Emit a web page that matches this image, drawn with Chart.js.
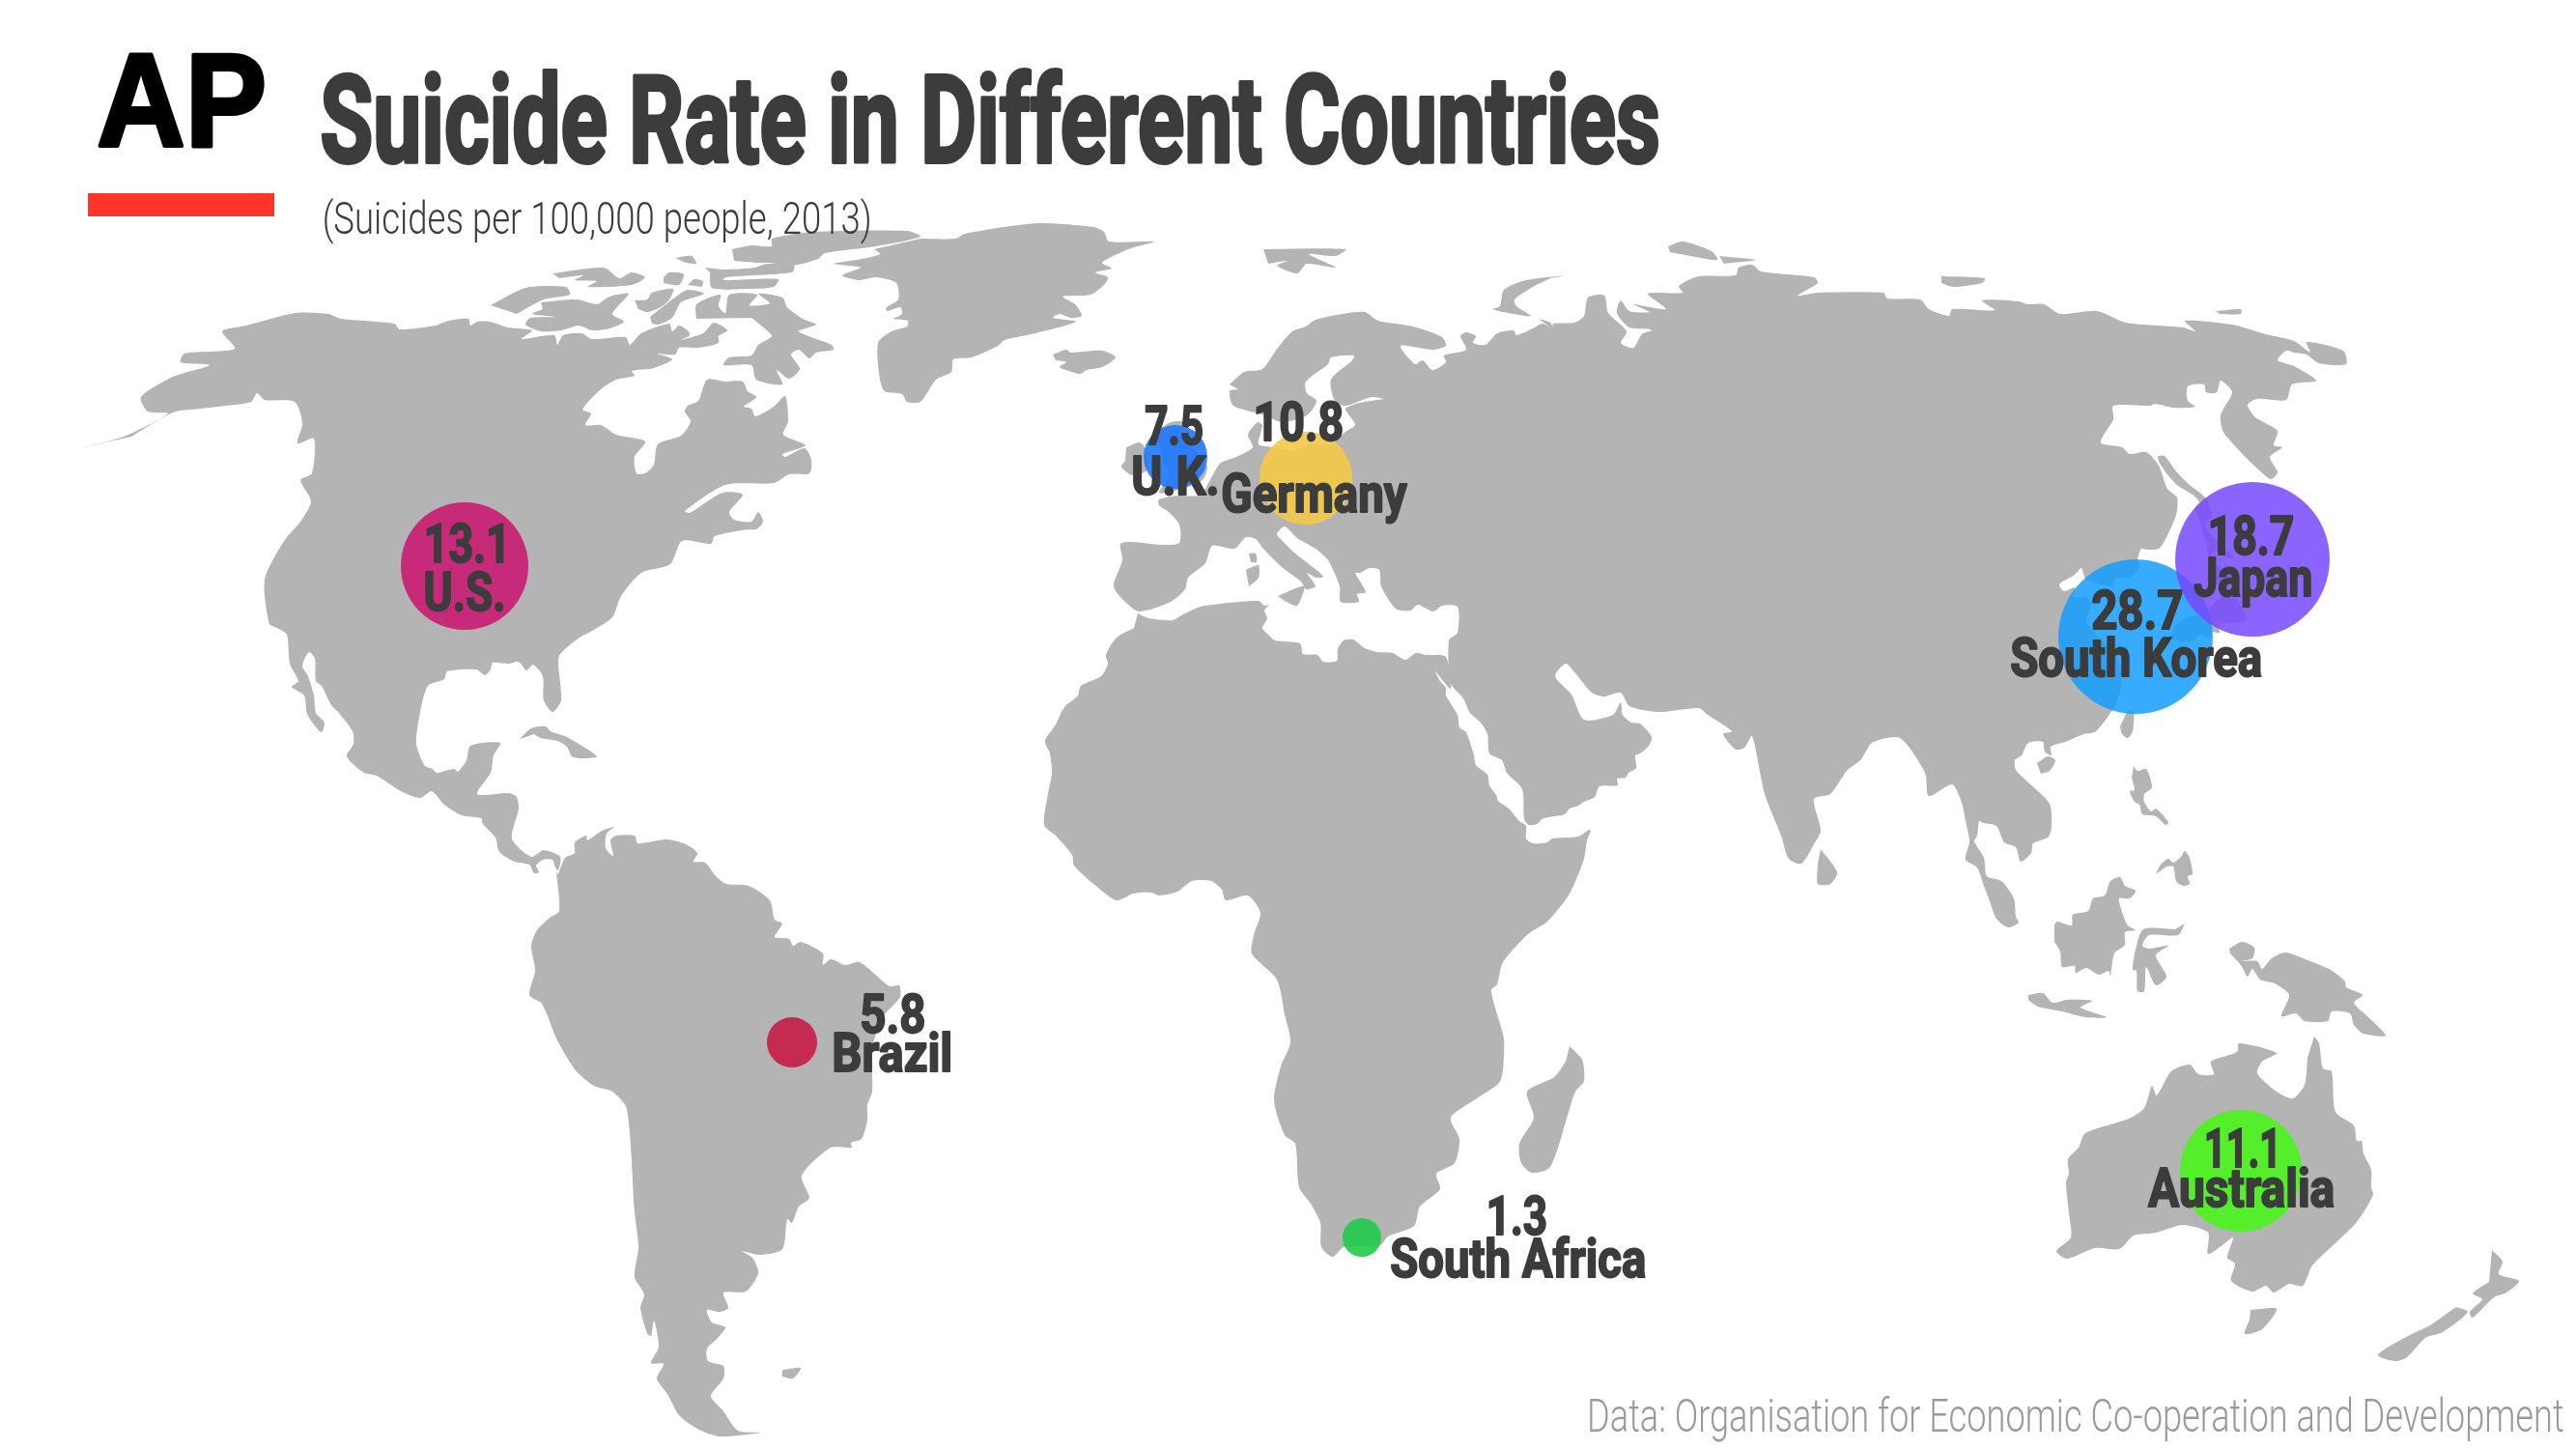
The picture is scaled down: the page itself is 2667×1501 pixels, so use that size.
<!DOCTYPE html>
<html>
<head>
<meta charset="utf-8">
<title>Suicide Rate in Different Countries</title>
<script src="https://cdn.jsdelivr.net/npm/chart.js@4"></script>
<style>
  html, body { margin: 0; padding: 0; background: #fff; overflow: hidden; }
  canvas { display: block; }
</style>
</head>
<body>
<canvas id="map-chart" width="2667" height="1501"></canvas>
<script>
// Chart values
const countries = ['U.S.', 'U.K.', 'Germany', 'South Korea', 'Japan', 'Brazil', 'South Africa', 'Australia'];
const rates = ['13.1', '7.5', '10.8', '28.7', '18.7', '5.8', '1.3', '11.1'];
const bubbleX = [481, 1217, 1352, 2211, 2332, 820, 1410, 2320];
const bubbleY = [586, 473, 495, 659, 579, 1079, 1281, 1212];
const bubbleR = [66, 33, 48, 80, 80, 26, 20, 63];

// Land outlines, in the same x/y units as the bubbles
const northAmerica = [[83,464],[128,452],[174,428],[153,426],[146,411],[179,390],[217,378],[187,375],[191,366],[243,361],[230,343],[255,337],[306,324],[340,325],[353,330],[408,335],[414,341],[451,337],[464,332],[485,330],[487,337],[494,333],[507,333],[526,339],[551,342],[540,351],[574,347],[577,357],[583,347],[602,345],[613,351],[648,349],[652,357],[664,345],[693,335],[696,343],[703,337],[712,342],[714,347],[705,352],[728,345],[739,334],[753,342],[744,348],[744,355],[723,360],[703,360],[699,367],[681,366],[696,372],[677,381],[654,384],[657,389],[638,393],[622,403],[603,424],[612,428],[606,440],[622,440],[638,450],[668,457],[657,473],[659,490],[668,490],[677,481],[681,460],[705,451],[715,436],[709,426],[712,420],[723,415],[732,393],[751,395],[769,395],[774,405],[783,411],[770,421],[778,423],[782,431],[801,421],[813,410],[816,436],[811,450],[834,461],[810,470],[813,473],[833,464],[840,476],[838,490],[817,491],[801,500],[751,502],[709,529],[714,531],[748,510],[769,512],[755,530],[760,538],[778,540],[785,530],[790,540],[783,548],[774,548],[740,555],[736,563],[706,560],[694,584],[664,593],[643,617],[634,639],[613,653],[600,660],[580,677],[578,687],[581,725],[572,737],[563,725],[562,700],[552,688],[545,694],[537,685],[527,687],[510,686],[508,693],[502,699],[493,693],[463,695],[460,703],[443,710],[435,737],[431,770],[440,793],[448,796],[452,800],[470,796],[474,799],[483,787],[487,772],[518,769],[511,782],[508,800],[494,822],[527,821],[535,825],[537,837],[530,868],[550,887],[563,880],[580,887],[578,901],[575,898],[572,890],[562,890],[555,896],[558,903],[553,904],[548,895],[533,892],[517,882],[513,867],[500,853],[498,847],[478,844],[460,833],[447,819],[435,826],[415,819],[390,803],[377,800],[359,783],[366,770],[365,757],[350,737],[343,730],[333,710],[327,705],[326,682],[320,675],[313,689],[319,700],[325,720],[327,738],[336,748],[333,758],[329,755],[318,739],[315,720],[302,711],[309,705],[300,687],[297,657],[287,650],[279,646],[274,600],[294,560],[311,540],[322,519],[311,497],[323,490],[325,454],[308,459],[313,438],[305,416],[274,414],[266,407],[260,416],[226,421],[208,423],[179,427],[136,452]];
const cuba = [[538,765],[550,754],[565,752],[570,757],[587,763],[618,783],[603,785],[592,783],[587,773],[577,767],[560,764],[553,760]];
const banks = [[508,316],[544,298],[586,297],[590,305],[563,310],[535,325]];
const victoria = [[560,313],[597,310],[618,315],[629,308],[638,305],[651,304],[634,325],[646,333],[631,340],[613,342],[599,337],[581,342],[560,343],[544,336],[549,329],[574,328],[551,325],[562,320]];
const melville = [[572,283],[625,277],[641,288],[654,282],[668,287],[654,295],[608,297],[618,291],[595,290],[604,285],[579,288]];
const princeOfWales = [[657,311],[670,310],[675,303],[697,299],[693,310],[684,318],[670,323],[661,320]];
const somerset = [[673,328],[696,310],[712,300],[729,304],[705,313],[696,329],[682,336],[675,335]];
const baffin = [[721,330],[721,315],[746,305],[744,317],[751,324],[755,305],[784,305],[776,316],[797,314],[785,304],[810,308],[815,318],[831,330],[845,336],[827,343],[861,357],[863,362],[845,365],[838,371],[827,362],[819,367],[828,382],[817,392],[804,383],[810,398],[783,393],[778,378],[749,378],[755,370],[778,368],[785,357],[799,348],[788,337],[778,329]];
const ellesmere = [[758,258],[778,254],[799,255],[799,247],[843,240],[939,239],[953,245],[907,255],[854,262],[847,268],[820,275],[797,272],[783,272],[760,270]];
const devon = [[730,277],[751,279],[781,277],[794,273],[822,275],[820,282],[751,287],[749,290],[806,289],[801,297],[774,299],[737,298],[735,282]];
const arcticSmallA = [[699,267],[716,265],[721,273],[710,272]];
const arcticSmallB = [[687,287],[693,282],[708,284],[703,295],[687,293]];
const arcticSmallC = [[712,295],[719,289],[728,291],[727,297]];
const greenland = [[953,247],[989,247],[999,242],[1040,235],[1077,231],[1132,235],[1143,240],[1148,250],[1195,250],[1168,258],[1141,272],[1151,278],[1134,282],[1147,287],[1143,295],[1129,305],[1100,307],[1113,315],[1120,327],[1109,329],[1097,325],[1090,329],[1114,333],[1072,345],[1040,352],[1033,358],[1006,370],[987,372],[985,385],[969,393],[953,416],[939,416],[934,408],[916,405],[911,393],[909,355],[923,343],[939,338],[940,332],[925,330],[934,325],[932,318],[918,322],[918,318],[930,310],[928,293],[907,287],[889,290],[872,285],[891,277],[863,273],[893,268],[911,263],[905,258]];
const iceland = [[1090,367],[1104,362],[1109,365],[1141,363],[1155,370],[1141,380],[1125,383],[1118,387],[1097,380],[1104,375],[1093,373]];
const southAmerica = [[578,905],[585,888],[595,883],[595,872],[607,865],[608,870],[623,860],[636,856],[628,863],[627,878],[635,886],[632,870],[638,865],[657,865],[660,873],[670,872],[691,869],[710,874],[722,883],[718,892],[730,893],[741,907],[752,915],[775,917],[797,932],[802,952],[810,956],[802,970],[817,972],[821,979],[829,975],[852,987],[852,999],[860,993],[875,999],[890,996],[921,1021],[931,1020],[932,1032],[913,1054],[903,1086],[903,1130],[898,1144],[898,1159],[892,1179],[881,1183],[882,1188],[860,1188],[830,1217],[838,1240],[827,1249],[820,1266],[815,1262],[810,1293],[787,1299],[768,1295],[779,1302],[785,1318],[772,1337],[749,1338],[754,1354],[745,1358],[732,1356],[737,1369],[751,1374],[741,1387],[732,1396],[733,1409],[749,1414],[749,1427],[736,1445],[749,1461],[764,1481],[787,1483],[745,1487],[722,1479],[703,1465],[691,1443],[680,1427],[687,1412],[674,1411],[682,1394],[677,1367],[674,1383],[670,1380],[663,1354],[667,1340],[657,1322],[661,1291],[657,1255],[649,1148],[634,1130],[615,1124],[596,1108],[577,1077],[561,1039],[548,1030],[554,1005],[550,979],[556,963],[569,950],[579,943],[576,903]];
const falklands = [[810,1418],[829,1416],[821,1427],[810,1425]];
const africa = [[1178,635],[1189,640],[1207,642],[1214,642],[1227,635],[1243,628],[1272,624],[1303,622],[1309,627],[1314,626],[1309,632],[1312,640],[1307,650],[1314,658],[1320,663],[1346,666],[1349,677],[1364,678],[1370,685],[1384,684],[1385,672],[1391,663],[1401,662],[1413,671],[1426,675],[1442,676],[1455,683],[1466,676],[1477,678],[1497,680],[1502,713],[1486,695],[1491,705],[1497,712],[1497,720],[1509,740],[1511,753],[1518,758],[1526,782],[1528,792],[1540,802],[1542,813],[1549,823],[1551,829],[1562,837],[1573,850],[1580,855],[1580,868],[1587,873],[1602,872],[1607,868],[1634,866],[1645,859],[1647,860],[1643,870],[1640,889],[1625,925],[1602,954],[1582,967],[1556,996],[1550,1019],[1544,1025],[1550,1050],[1557,1075],[1556,1108],[1552,1121],[1529,1137],[1502,1157],[1511,1179],[1506,1204],[1487,1215],[1491,1231],[1470,1249],[1464,1269],[1437,1280],[1429,1289],[1391,1291],[1380,1301],[1368,1291],[1367,1266],[1357,1246],[1345,1229],[1341,1184],[1330,1175],[1319,1139],[1326,1104],[1336,1079],[1330,1050],[1322,1014],[1296,987],[1299,965],[1305,945],[1292,927],[1269,932],[1265,921],[1254,912],[1234,912],[1219,923],[1200,927],[1192,924],[1173,925],[1156,932],[1131,914],[1112,896],[1110,885],[1093,865],[1081,854],[1085,822],[1089,800],[1087,780],[1082,767],[1093,750],[1102,732],[1116,720],[1119,710],[1140,700],[1147,687],[1145,678],[1156,660],[1174,650]];
const madagascar = [[1625,1083],[1638,1097],[1640,1119],[1631,1130],[1625,1148],[1605,1208],[1586,1214],[1575,1204],[1573,1184],[1588,1157],[1581,1130],[1609,1115],[1621,1099]];
const eurasia = [[1273,398],[1288,385],[1307,382],[1323,360],[1338,343],[1352,338],[1362,331],[1390,325],[1413,323],[1427,332],[1463,338],[1493,349],[1497,358],[1483,362],[1450,358],[1465,377],[1473,373],[1483,383],[1497,375],[1495,368],[1518,362],[1512,348],[1518,344],[1528,348],[1525,355],[1538,357],[1550,345],[1567,342],[1570,347],[1587,340],[1597,335],[1607,340],[1608,335],[1630,334],[1640,327],[1644,308],[1661,306],[1665,324],[1684,343],[1678,355],[1691,360],[1700,346],[1712,343],[1721,352],[1708,341],[1687,339],[1674,324],[1678,311],[1687,322],[1708,323],[1691,315],[1725,320],[1706,304],[1742,303],[1738,296],[1759,286],[1797,285],[1800,277],[1814,274],[1823,281],[1878,287],[1882,293],[1861,306],[1882,303],[1950,303],[1954,309],[1988,310],[1997,320],[2018,327],[2021,320],[2065,321],[2052,311],[2090,312],[2099,315],[2116,315],[2133,325],[2171,322],[2201,334],[2260,339],[2273,343],[2262,332],[2311,336],[2346,346],[2375,353],[2392,365],[2388,354],[2426,363],[2429,377],[2401,376],[2388,367],[2375,365],[2367,363],[2358,373],[2375,379],[2398,394],[2373,398],[2367,414],[2337,413],[2327,419],[2335,432],[2358,446],[2354,461],[2363,463],[2350,473],[2358,489],[2350,496],[2303,449],[2299,430],[2311,406],[2299,394],[2295,406],[2284,406],[2282,398],[2265,400],[2265,415],[2273,421],[2250,422],[2231,418],[2226,420],[2188,420],[2188,434],[2175,458],[2197,463],[2205,470],[2222,468],[2235,482],[2244,506],[2254,515],[2253,533],[2242,558],[2235,568],[2222,569],[2217,568],[2213,580],[2216,587],[2205,598],[2190,598],[2188,607],[2160,600],[2155,588],[2148,595],[2132,605],[2137,612],[2148,608],[2147,618],[2160,618],[2165,627],[2160,643],[2173,660],[2190,677],[2197,703],[2190,730],[2170,757],[2157,760],[2138,768],[2123,773],[2124,782],[2117,778],[2115,768],[2100,769],[2093,782],[2086,787],[2087,797],[2100,810],[2122,832],[2124,857],[2120,867],[2105,873],[2103,883],[2092,892],[2087,877],[2075,872],[2067,855],[2053,852],[2049,850],[2047,865],[2044,871],[2054,888],[2057,907],[2072,912],[2085,930],[2087,949],[2090,955],[2079,960],[2067,951],[2059,930],[2054,917],[2047,898],[2035,890],[2039,871],[2035,850],[2031,831],[2021,812],[1997,824],[1993,800],[1967,764],[1938,769],[1927,786],[1912,798],[1895,822],[1878,827],[1885,860],[1878,874],[1865,894],[1852,889],[1844,865],[1827,822],[1814,762],[1806,774],[1797,776],[1784,760],[1793,757],[1768,740],[1759,733],[1717,737],[1687,731],[1678,717],[1661,721],[1648,717],[1631,697],[1621,687],[1610,700],[1627,719],[1640,745],[1670,740],[1678,727],[1680,740],[1689,748],[1698,749],[1710,763],[1707,772],[1698,780],[1693,782],[1694,795],[1686,800],[1683,805],[1674,806],[1675,813],[1656,814],[1651,825],[1640,830],[1634,834],[1625,837],[1620,843],[1598,847],[1591,853],[1583,854],[1578,848],[1576,817],[1560,800],[1555,787],[1542,780],[1540,760],[1533,748],[1522,738],[1515,723],[1502,707],[1500,663],[1509,655],[1509,628],[1493,627],[1484,633],[1468,626],[1460,632],[1445,630],[1430,607],[1428,590],[1418,588],[1408,593],[1403,593],[1414,613],[1405,615],[1407,623],[1388,623],[1387,607],[1375,580],[1362,568],[1343,557],[1330,545],[1322,552],[1323,555],[1340,572],[1363,590],[1370,597],[1363,598],[1353,593],[1362,607],[1352,610],[1347,602],[1327,587],[1308,568],[1300,558],[1290,556],[1278,568],[1255,565],[1248,583],[1230,598],[1227,610],[1212,623],[1180,633],[1167,625],[1153,607],[1162,580],[1160,563],[1173,561],[1202,564],[1221,562],[1221,543],[1210,530],[1200,523],[1200,517],[1220,513],[1243,512],[1263,480],[1280,473],[1297,463],[1292,450],[1302,437],[1307,440],[1303,460],[1317,463],[1337,467],[1357,460],[1378,460],[1393,447],[1403,440],[1397,430],[1393,423],[1407,417],[1432,413],[1420,411],[1393,420],[1382,415],[1378,393],[1400,373],[1402,368],[1378,370],[1375,377],[1352,395],[1353,407],[1363,415],[1353,430],[1327,437],[1310,430],[1277,420],[1273,405],[1282,403]];
const honshuNorth = [[2234,472],[2241,472],[2253,488],[2267,502],[2283,515],[2290,533],[2283,545],[2302,567],[2313,577],[2307,578],[2293,570],[2287,577],[2285,567],[2277,537],[2272,527],[2277,520],[2270,512],[2255,503],[2243,490],[2235,478]];
const honshuSouth = [[2295,585],[2310,595],[2307,610],[2320,627],[2326,642],[2307,645],[2297,647],[2298,655],[2290,653],[2287,630],[2300,617],[2293,597]];
const kyushu = [[2248,660],[2253,647],[2270,637],[2290,643],[2288,660],[2277,657],[2273,663],[2257,665]];
const taiwan = [[2203,735],[2209,738],[2208,757],[2203,764],[2197,760],[2195,752]];
const hainan = [[2109,790],[2120,783],[2128,787],[2122,798],[2113,801]];
const luzon = [[2209,793],[2213,798],[2222,796],[2228,815],[2220,822],[2220,830],[2227,840],[2232,837],[2245,851],[2242,854],[2232,845],[2218,843],[2215,833],[2210,830],[2205,819],[2210,818],[2207,805]];
const mindanao = [[2232,905],[2237,895],[2245,889],[2250,893],[2258,887],[2262,881],[2267,888],[2270,905],[2265,907],[2267,915],[2260,917],[2253,912],[2250,897],[2243,897]];
const borneo = [[2127,957],[2130,954],[2145,958],[2146,947],[2162,943],[2167,930],[2179,927],[2185,912],[2195,908],[2200,917],[2211,922],[2205,930],[2194,930],[2198,947],[2203,958],[2211,963],[2200,965],[2200,978],[2189,987],[2185,1010],[2183,1005],[2173,1009],[2160,1002],[2149,1007],[2148,1000],[2135,1001],[2133,985],[2127,975]];
const sulawesi = [[2262,956],[2255,968],[2225,968],[2218,979],[2226,982],[2245,979],[2232,989],[2243,1011],[2232,1020],[2222,1001],[2220,1026],[2213,1026],[2212,1005],[2208,1004],[2211,983],[2219,962],[2252,962]];
const java = [[2100,1030],[2115,1028],[2125,1038],[2140,1035],[2166,1036],[2154,1043],[2181,1053],[2159,1053],[2135,1047],[2110,1042],[2100,1035]];
const newGuinea = [[2308,982],[2321,975],[2334,981],[2332,992],[2320,995],[2337,995],[2342,1003],[2352,992],[2366,986],[2389,994],[2413,1004],[2428,1016],[2429,1022],[2446,1030],[2437,1038],[2452,1053],[2470,1072],[2447,1070],[2437,1061],[2433,1049],[2414,1047],[2410,1057],[2386,1057],[2377,1049],[2362,1052],[2370,1030],[2355,1018],[2340,1014],[2332,1003],[2327,1011],[2320,999],[2309,987]];
const australia = [[2396,1073],[2401,1080],[2405,1106],[2414,1109],[2418,1151],[2437,1165],[2440,1181],[2445,1181],[2447,1194],[2455,1211],[2455,1229],[2457,1237],[2440,1265],[2421,1284],[2394,1310],[2384,1331],[2370,1329],[2354,1338],[2346,1331],[2332,1337],[2310,1326],[2314,1308],[2306,1302],[2312,1281],[2301,1289],[2286,1298],[2286,1276],[2260,1268],[2232,1276],[2209,1279],[2194,1293],[2169,1292],[2140,1303],[2129,1295],[2144,1281],[2142,1256],[2139,1224],[2142,1215],[2141,1200],[2152,1188],[2159,1173],[2204,1158],[2220,1147],[2228,1124],[2233,1134],[2248,1109],[2267,1102],[2276,1112],[2292,1112],[2289,1099],[2316,1089],[2318,1080],[2357,1090],[2342,1099],[2337,1111],[2357,1130],[2374,1137],[2386,1123],[2389,1095]];
const tasmania = [[2330,1356],[2357,1355],[2342,1376],[2324,1381],[2329,1366]];
const nzNorth = [[2580,1294],[2591,1306],[2587,1319],[2608,1326],[2595,1338],[2582,1343],[2560,1364],[2557,1358],[2570,1345],[2560,1339],[2577,1327]];
const nzSouth = [[2543,1353],[2555,1358],[2529,1379],[2511,1385],[2492,1405],[2480,1409],[2462,1403],[2480,1390],[2516,1372]];
const sriLanka = [[1885,879],[1902,903],[1895,915],[1882,915],[1882,894]];
const britain = [[1197,447],[1212,437],[1227,437],[1223,450],[1243,473],[1250,483],[1245,497],[1220,507],[1200,510],[1210,493],[1203,473]];
const ireland = [[1166,463],[1180,458],[1187,467],[1187,487],[1172,492],[1161,483],[1165,477]];
const corsica = [[1293,573],[1300,573],[1301,582],[1295,582]];
const sardinia = [[1290,590],[1303,585],[1303,598],[1293,607]];
const sicily = [[1323,617],[1350,607],[1343,627],[1330,622]];
const svalbard = [[1308,258],[1393,258],[1383,265],[1355,263],[1383,277],[1353,273],[1343,283],[1322,275],[1333,270],[1313,273]];
const novayaZemlya = [[1622,285],[1580,290],[1557,300],[1553,317],[1545,320],[1567,325],[1585,327],[1570,317],[1568,310],[1587,297],[1605,288]];
const kolguev = [[1593,330],[1605,334],[1609,343],[1600,335]];
const severnaya = [[1727,255],[1742,250],[1772,260],[1778,269],[1750,265],[1729,261]];
const severnayaEast = [[1780,265],[1817,269],[1785,273]];
const newSiberian = [[2010,286],[2055,288],[2052,293],[2022,297],[2010,293]];
const wrangel = [[2294,322],[2320,320],[2320,325],[2298,325]];

const landmasses = [northAmerica, cuba, banks, victoria, melville, princeOfWales, somerset, baffin,
    ellesmere, devon, arcticSmallA, arcticSmallB, arcticSmallC, greenland, iceland, southAmerica,
    falklands, africa, madagascar, eurasia, honshuNorth, honshuSouth, kyushu, taiwan, hainan, luzon,
    mindanao, borneo, sulawesi, java, newGuinea, australia, tasmania, nzNorth, nzSouth, sriLanka,
    britain, ireland, corsica, sardinia, sicily, svalbard, novayaZemlya, kolguev, severnaya,
    severnayaEast, newSiberian, wrangel];

const bubbleColors = ['rgba(200,27,113,.9)', 'rgba(29,119,255,.9)', 'rgba(244,201,71,.9)', 'rgba(20,158,255,.85)',
    'rgba(119,72,255,.85)', 'rgba(198,27,69,.9)', 'rgba(30,203,73,.9)', 'rgba(74,244,28,.9)'];

const INK = '#3c3c3c';
const LABEL_FONT = '700 55px Roboto';

// left edge, right edge and baseline of the rate and the name of each country
const rateBoxes = [[442, 521, 582], [1186, 1245, 460], [1301, 1390, 456], [2166, 2259, 651],
    [2289, 2374, 574], [892, 957, 1069], [1542, 1600, 1278], [2285, 2355, 1208]];
const nameBoxes = [[441, 521, 632], [1174, 1260, 512], [1266, 1457, 530], [2082, 2341, 700],
    [2272, 2392, 617], [864, 984, 1109], [1440, 1703, 1322], [2224, 2416, 1249]];

// squeezes a text sideways so its ink runs from left to right
function drawFitted(ctx, text, left, right, baseline, font, color, thicken) {
    ctx.save();
    ctx.font = font;
    ctx.textAlign = 'left';
    ctx.textBaseline = 'alphabetic';
    ctx.fillStyle = color;
    const m = ctx.measureText(text);
    const sx = (right - left) / (m.actualBoundingBoxRight + m.actualBoundingBoxLeft);
    ctx.translate(left + m.actualBoundingBoxLeft * sx, baseline);
    ctx.scale(sx, 1);
    ctx.fillText(text, 0, 0);
    if (thicken) {
        ctx.strokeStyle = color;
        ctx.lineWidth = thicken;
        ctx.lineJoin = 'round';
        ctx.strokeText(text, 0, 0);
    }
    ctx.restore();
}

const textPlugin = {
    id: 'pageText',
    afterDraw(chart) {
        const ctx = chart.ctx;
        // logo and red rule
        drawFitted(ctx, 'AP', 103, 272, 151, '700 137px "Liberation Sans"', '#000', 4);
        ctx.fillStyle = '#ff352c';
        ctx.fillRect(91, 200, 193, 24);

        drawFitted(ctx, 'Suicide Rate in Different Countries', 334, 1716, 168, '700 127px Roboto', INK, 4);
        drawFitted(ctx, '(Suicides per 100,000 people, 2013)', 336, 900, 242, '300 47px Roboto', INK);
        drawFitted(ctx, 'Data: Organisation for Economic Co-operation and Development', 1646, 2654, 1482, '300 49px Roboto', '#9a9a9a');

        countries.forEach((name, i) => {
            const r = rateBoxes[i];
            const n = nameBoxes[i];
            drawFitted(ctx, rates[i], r[0], r[1], r[2], LABEL_FONT, INK, 2);
            drawFitted(ctx, name, n[0], n[1], n[2], LABEL_FONT, INK, 2);
        });
    }
};

const landDatasets = landmasses.map(shape => ({
    type: 'scatter',
    data: shape.map(p => ({ x: p[0], y: p[1] })),
    showLine: true,
    fill: 'shape',
    tension: 0.25,
    capBezierPoints: false,
    borderWidth: 0,
    backgroundColor: '#b4b4b4',
    pointRadius: 0,
    order: 2
}));

// bubbles would otherwise inset the plot area by their largest radius, and the
// land fill is clipped to that area; the map has to run over the whole canvas
Chart.BubbleController.prototype.getMaxOverflow = () => 0;

new Chart(document.getElementById('map-chart'), {
    type: 'bubble',
    data: {
        datasets: [{
            type: 'bubble',
            data: countries.map((name, i) => ({ x: bubbleX[i], y: bubbleY[i], r: bubbleR[i] })),
            backgroundColor: bubbleColors,
            borderWidth: 0,
            order: 1
        }, ...landDatasets]
    },
    options: {
        responsive: false,
        animation: false,
        devicePixelRatio: 1,
        layout: { padding: 0 },
        plugins: {
            legend: { display: false },
            title: { display: false },
            tooltip: { enabled: false }
        },
        scales: {
            x: { type: 'linear', min: 0, max: 2667, display: false },
            y: { type: 'linear', min: 0, max: 1501, reverse: true, display: false }
        }
    },
    plugins: [textPlugin]
});
</script>
</body>
</html>
